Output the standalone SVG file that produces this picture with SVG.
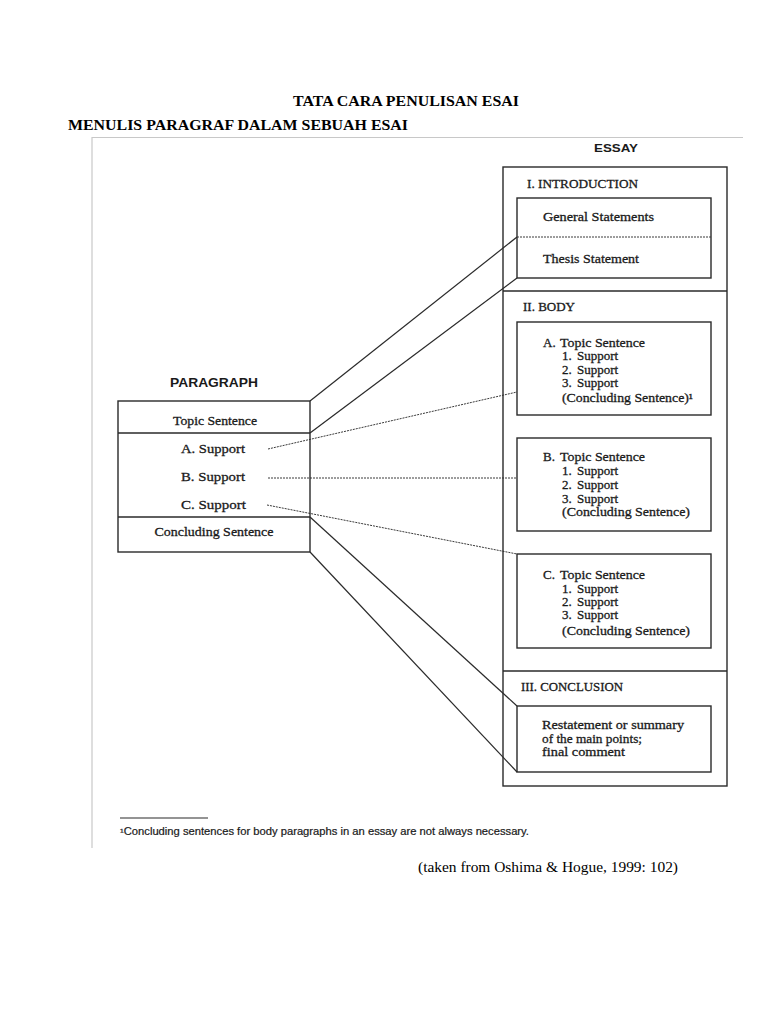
<svg xmlns="http://www.w3.org/2000/svg" width="768" height="1024" viewBox="0 0 768 1024">
<style>
.bg{fill:#ffffff}
.box{fill:none;stroke:#2a2a2a;stroke-width:1.4}
.line{fill:none;stroke:#2a2a2a;stroke-width:1.2}
.dot{fill:none;stroke:#3a3a3a;stroke-width:1;stroke-dasharray:2 1}
.scan{fill:none;stroke:#c8c8c8;stroke-width:1.2}
.t{font-family:"Liberation Serif","Times New Roman",serif;font-size:13px;fill:#1a1a1a;stroke:#1a1a1a;stroke-width:0.3}
.h{font-family:"Liberation Sans",Arial,sans-serif;font-weight:bold;fill:#1a1a1a}
.title{font-family:"Liberation Serif","Times New Roman",serif;font-weight:bold;font-size:14px;fill:#000}
.src{font-family:"Liberation Serif","Times New Roman",serif;font-size:14px;fill:#000}
.fn{font-family:"Liberation Sans",Arial,sans-serif;font-size:10px;fill:#1a1a1a;stroke:#1a1a1a;stroke-width:0.2}
</style>
<rect class="bg" x="0" y="0" width="768" height="1024"/>

<g id="titles">
<text class="title" x="293" y="106" textLength="226" lengthAdjust="spacingAndGlyphs">TATA CARA PENULISAN ESAI</text>
<text class="title" x="68" y="130" textLength="340" lengthAdjust="spacingAndGlyphs">MENULIS PARAGRAF DALAM SEBUAH ESAI</text>
</g>

<g id="scan-frame">
<path class="scan" d="M92,848 V137.5 H743"/>
</g>

<g id="connectors">
<line class="line" x1="310" y1="401" x2="517" y2="237"/>
<line class="line" x1="310" y1="433" x2="517" y2="278"/>
<line class="dot" x1="268" y1="449" x2="517" y2="392"/>
<line class="dot" x1="268" y1="478" x2="517" y2="478"/>
<line class="dot" x1="267" y1="505" x2="517" y2="554"/>
<line class="line" x1="310" y1="517" x2="517" y2="706"/>
<line class="line" x1="310" y1="552" x2="517" y2="772"/>
</g>

<g id="paragraph">
<text class="h" x="214" y="387" font-size="13" text-anchor="middle" textLength="88" lengthAdjust="spacingAndGlyphs">PARAGRAPH</text>
<rect class="box" x="118" y="401" width="192" height="151"/>
<line class="box" x1="118" y1="433" x2="310" y2="433"/>
<line class="box" x1="118" y1="517" x2="310" y2="517"/>
<text class="t" x="215" y="425" text-anchor="middle" textLength="84" lengthAdjust="spacingAndGlyphs">Topic Sentence</text>
<text class="t" x="181" y="453" textLength="64" lengthAdjust="spacingAndGlyphs">A.  Support</text>
<text class="t" x="181" y="481" textLength="64" lengthAdjust="spacingAndGlyphs">B.  Support</text>
<text class="t" x="181" y="509" textLength="65" lengthAdjust="spacingAndGlyphs">C.  Support</text>
<text class="t" x="214" y="536" text-anchor="middle" textLength="119" lengthAdjust="spacingAndGlyphs">Concluding Sentence</text>
</g>

<g id="essay">
<text class="h" x="616" y="152" font-size="11" text-anchor="middle" textLength="44" lengthAdjust="spacingAndGlyphs">ESSAY</text>
<rect class="box" x="503" y="167" width="224" height="619"/>
<line class="box" x1="503" y1="291" x2="727" y2="291"/>
<line class="box" x1="503" y1="671" x2="727" y2="671"/>
</g>

<g id="introduction">
<text class="t" x="527" y="188" textLength="111" lengthAdjust="spacingAndGlyphs">I.  INTRODUCTION</text>
<rect class="box" x="517" y="198" width="194" height="80"/>
<line class="dot" x1="517" y1="237" x2="711" y2="237"/>
<text class="t" x="543" y="221" textLength="111" lengthAdjust="spacingAndGlyphs">General Statements</text>
<text class="t" x="543" y="263" textLength="96" lengthAdjust="spacingAndGlyphs">Thesis Statement</text>
</g>

<g id="body">
<text class="t" x="523" y="311" textLength="52" lengthAdjust="spacingAndGlyphs">II.  BODY</text>
</g>

<g id="body-a">
<rect class="box" x="517" y="322" width="194" height="93"/>
<text class="t" x="543" y="347">A.</text>
<text class="t" x="560" y="347" textLength="85" lengthAdjust="spacingAndGlyphs">Topic Sentence</text>
<text class="t" x="562" y="360">1.</text><text class="t" x="577" y="360">Support</text>
<text class="t" x="562" y="374">2.</text><text class="t" x="577" y="374">Support</text>
<text class="t" x="562" y="387">3.</text><text class="t" x="577" y="387">Support</text>
<text class="t" x="562" y="402" textLength="131" lengthAdjust="spacingAndGlyphs">(Concluding Sentence)¹</text>
</g>

<g id="body-b">
<rect class="box" x="517" y="438" width="194" height="93"/>
<text class="t" x="543" y="461">B.</text>
<text class="t" x="560" y="461" textLength="85" lengthAdjust="spacingAndGlyphs">Topic Sentence</text>
<text class="t" x="562" y="475">1.</text><text class="t" x="577" y="475">Support</text>
<text class="t" x="562" y="489">2.</text><text class="t" x="577" y="489">Support</text>
<text class="t" x="562" y="503">3.</text><text class="t" x="577" y="503">Support</text>
<text class="t" x="562" y="516" textLength="128" lengthAdjust="spacingAndGlyphs">(Concluding Sentence)</text>
</g>

<g id="body-c">
<rect class="box" x="517" y="554" width="194" height="94"/>
<text class="t" x="543" y="579">C.</text>
<text class="t" x="560" y="579" textLength="85" lengthAdjust="spacingAndGlyphs">Topic Sentence</text>
<text class="t" x="562" y="593">1.</text><text class="t" x="577" y="593">Support</text>
<text class="t" x="562" y="606">2.</text><text class="t" x="577" y="606">Support</text>
<text class="t" x="562" y="619">3.</text><text class="t" x="577" y="619">Support</text>
<text class="t" x="562" y="635" textLength="128" lengthAdjust="spacingAndGlyphs">(Concluding Sentence)</text>
</g>

<g id="conclusion">
<text class="t" x="521" y="691" textLength="102" lengthAdjust="spacingAndGlyphs">III.  CONCLUSION</text>
<rect class="box" x="517" y="706" width="194" height="66"/>
<text class="t" x="542" y="729" textLength="142" lengthAdjust="spacingAndGlyphs">Restatement or summary</text>
<text class="t" x="542" y="743" textLength="100" lengthAdjust="spacingAndGlyphs">of the main points;</text>
<text class="t" x="542" y="756" textLength="83" lengthAdjust="spacingAndGlyphs">final comment</text>
</g>

<g id="footnote">
<line class="line" x1="120" y1="818" x2="208" y2="818" stroke-width="1"/>
<text class="fn" x="120" y="835" textLength="409" lengthAdjust="spacingAndGlyphs">¹Concluding sentences for body paragraphs in an essay are not always necessary.</text>
</g>

<g id="source">
<text class="src" x="418" y="872" textLength="260" lengthAdjust="spacingAndGlyphs">(taken from Oshima &amp; Hogue, 1999: 102)</text>
</g>
</svg>
